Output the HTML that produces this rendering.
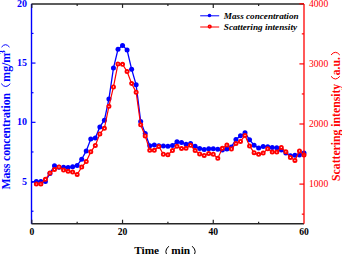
<!DOCTYPE html>
<html><head><meta charset="utf-8"><style>
html,body{margin:0;padding:0;background:#fff;width:342px;height:254px;overflow:hidden}
svg{display:block}
text{font-family:"Liberation Serif",serif}
.lb{font-weight:bold;font-size:10px}
.rl{font-size:9.6px}
.ti{font-weight:bold;font-size:11.3px}
.lg{font-weight:bold;font-style:italic;font-size:9.2px}
</style></head><body>
<svg width="342" height="254" viewBox="0 0 342 254">
<rect width="342" height="254" fill="#fff"/>
<polyline points="31.80,182.4 36.34,181.4 40.87,181.5 45.41,181.4 49.95,173.4 54.48,165.7 59.02,167.2 63.56,167.3 68.09,167.4 72.63,166.8 77.17,165.4 81.70,159.2 86.24,150.9 90.78,139.0 95.31,138.1 99.85,126.9 104.39,120.2 108.92,98.9 113.46,68.1 118.00,49.3 122.53,45.4 127.07,50.1 131.61,69.2 136.14,84.8 140.68,121.4 145.22,133.4 149.75,145.7 154.29,145.1 158.83,145.7 163.36,146.1 167.90,146.2 172.44,145.4 176.97,141.8 181.51,142.6 186.05,144.3 190.58,143.6 195.12,146.3 199.66,148.5 204.19,149.4 208.73,148.7 213.27,148.7 217.80,149.3 222.34,149.9 226.88,149.0 231.41,146.9 235.95,139.4 240.49,135.7 245.02,132.7 249.56,139.8 254.10,145.2 258.63,148.1 263.17,146.4 267.71,146.7 272.24,147.4 276.78,147.8 281.32,150.1 285.85,152.9 290.39,155.70000000000002 294.93,155.20000000000002 299.46,154.9 304.00,153.1" fill="none" stroke="#0000ff" stroke-width="1.3"/>
<g fill="#0000ff"><circle cx="36.34" cy="181.4" r="2.5"/><circle cx="40.87" cy="181.5" r="2.5"/><circle cx="45.41" cy="181.4" r="2.5"/><circle cx="49.95" cy="173.4" r="2.5"/><circle cx="54.48" cy="165.7" r="2.5"/><circle cx="59.02" cy="167.2" r="2.5"/><circle cx="63.56" cy="167.3" r="2.5"/><circle cx="68.09" cy="167.4" r="2.5"/><circle cx="72.63" cy="166.8" r="2.5"/><circle cx="77.17" cy="165.4" r="2.5"/><circle cx="81.70" cy="159.2" r="2.5"/><circle cx="86.24" cy="150.9" r="2.5"/><circle cx="90.78" cy="139.0" r="2.5"/><circle cx="95.31" cy="138.1" r="2.5"/><circle cx="99.85" cy="126.9" r="2.5"/><circle cx="104.39" cy="120.2" r="2.5"/><circle cx="108.92" cy="98.9" r="2.5"/><circle cx="113.46" cy="68.1" r="2.5"/><circle cx="118.00" cy="49.3" r="2.5"/><circle cx="122.53" cy="45.4" r="2.5"/><circle cx="127.07" cy="50.1" r="2.5"/><circle cx="131.61" cy="69.2" r="2.5"/><circle cx="136.14" cy="84.8" r="2.5"/><circle cx="140.68" cy="121.4" r="2.5"/><circle cx="145.22" cy="133.4" r="2.5"/><circle cx="149.75" cy="145.7" r="2.5"/><circle cx="154.29" cy="145.1" r="2.5"/><circle cx="158.83" cy="145.7" r="2.5"/><circle cx="163.36" cy="146.1" r="2.5"/><circle cx="167.90" cy="146.2" r="2.5"/><circle cx="172.44" cy="145.4" r="2.5"/><circle cx="176.97" cy="141.8" r="2.5"/><circle cx="181.51" cy="142.6" r="2.5"/><circle cx="186.05" cy="144.3" r="2.5"/><circle cx="190.58" cy="143.6" r="2.5"/><circle cx="195.12" cy="146.3" r="2.5"/><circle cx="199.66" cy="148.5" r="2.5"/><circle cx="204.19" cy="149.4" r="2.5"/><circle cx="208.73" cy="148.7" r="2.5"/><circle cx="213.27" cy="148.7" r="2.5"/><circle cx="217.80" cy="149.3" r="2.5"/><circle cx="222.34" cy="149.9" r="2.5"/><circle cx="226.88" cy="149.0" r="2.5"/><circle cx="231.41" cy="146.9" r="2.5"/><circle cx="235.95" cy="139.4" r="2.5"/><circle cx="240.49" cy="135.7" r="2.5"/><circle cx="245.02" cy="132.7" r="2.5"/><circle cx="249.56" cy="139.8" r="2.5"/><circle cx="254.10" cy="145.2" r="2.5"/><circle cx="258.63" cy="148.1" r="2.5"/><circle cx="263.17" cy="146.4" r="2.5"/><circle cx="267.71" cy="146.7" r="2.5"/><circle cx="272.24" cy="147.4" r="2.5"/><circle cx="276.78" cy="147.8" r="2.5"/><circle cx="281.32" cy="150.1" r="2.5"/><circle cx="285.85" cy="152.9" r="2.5"/><circle cx="290.39" cy="155.70000000000002" r="2.5"/><circle cx="294.93" cy="155.20000000000002" r="2.5"/><circle cx="299.46" cy="154.9" r="2.5"/><circle cx="304.00" cy="153.1" r="2.5"/></g>
<polyline points="36.34,184 40.87,184 45.41,179.3 49.95,173 54.48,169.5 59.02,166.9 63.56,170.1 68.09,171.3 72.63,172 77.17,174.5 81.70,167.1 86.24,161.6 90.78,151.8 95.31,145.4 99.85,133.9 104.39,128.3 108.92,106.3 113.46,86.9 118.00,63.9 122.53,64.3 127.07,71.6 131.61,83.5 136.14,92.2 140.68,124.8 145.22,135.9 149.75,150.3 154.29,150.3 158.83,146.5 163.36,154.2 167.90,154.8 172.44,150.6 176.97,146.2 181.51,148.5 186.05,148.3 190.58,145.3 195.12,150.6 199.66,153.9 204.19,155.4 208.73,153.6 213.27,154.2 217.80,158.3 222.34,148.3 226.88,145.1 231.41,148.9 235.95,143.6 240.49,141.4 245.02,135.4 249.56,146 254.10,152.7 258.63,154.3 263.17,153.1 267.71,148.8 272.24,152 276.78,152.1 281.32,147.4 285.85,151.8 290.39,157.4 294.93,160.4 299.46,150.9 304.00,155" fill="none" stroke="#ff0000" stroke-width="1.2"/>
<g fill="#fff" stroke="#ff0000" stroke-width="1.9"><circle cx="36.34" cy="184" r="1.55"/><circle cx="40.87" cy="184" r="1.55"/><circle cx="45.41" cy="179.3" r="1.55"/><circle cx="49.95" cy="173" r="1.55"/><circle cx="54.48" cy="169.5" r="1.55"/><circle cx="59.02" cy="166.9" r="1.55"/><circle cx="63.56" cy="170.1" r="1.55"/><circle cx="68.09" cy="171.3" r="1.55"/><circle cx="72.63" cy="172" r="1.55"/><circle cx="77.17" cy="174.5" r="1.55"/><circle cx="81.70" cy="167.1" r="1.55"/><circle cx="86.24" cy="161.6" r="1.55"/><circle cx="90.78" cy="151.8" r="1.55"/><circle cx="95.31" cy="145.4" r="1.55"/><circle cx="99.85" cy="133.9" r="1.55"/><circle cx="104.39" cy="128.3" r="1.55"/><circle cx="108.92" cy="106.3" r="1.55"/><circle cx="113.46" cy="86.9" r="1.55"/><circle cx="118.00" cy="63.9" r="1.55"/><circle cx="122.53" cy="64.3" r="1.55"/><circle cx="127.07" cy="71.6" r="1.55"/><circle cx="131.61" cy="83.5" r="1.55"/><circle cx="136.14" cy="92.2" r="1.55"/><circle cx="140.68" cy="124.8" r="1.55"/><circle cx="145.22" cy="135.9" r="1.55"/><circle cx="149.75" cy="150.3" r="1.55"/><circle cx="154.29" cy="150.3" r="1.55"/><circle cx="158.83" cy="146.5" r="1.55"/><circle cx="163.36" cy="154.2" r="1.55"/><circle cx="167.90" cy="154.8" r="1.55"/><circle cx="172.44" cy="150.6" r="1.55"/><circle cx="176.97" cy="146.2" r="1.55"/><circle cx="181.51" cy="148.5" r="1.55"/><circle cx="186.05" cy="148.3" r="1.55"/><circle cx="190.58" cy="145.3" r="1.55"/><circle cx="195.12" cy="150.6" r="1.55"/><circle cx="199.66" cy="153.9" r="1.55"/><circle cx="204.19" cy="155.4" r="1.55"/><circle cx="208.73" cy="153.6" r="1.55"/><circle cx="213.27" cy="154.2" r="1.55"/><circle cx="217.80" cy="158.3" r="1.55"/><circle cx="222.34" cy="148.3" r="1.55"/><circle cx="226.88" cy="145.1" r="1.55"/><circle cx="231.41" cy="148.9" r="1.55"/><circle cx="235.95" cy="143.6" r="1.55"/><circle cx="240.49" cy="141.4" r="1.55"/><circle cx="245.02" cy="135.4" r="1.55"/><circle cx="249.56" cy="146" r="1.55"/><circle cx="254.10" cy="152.7" r="1.55"/><circle cx="258.63" cy="154.3" r="1.55"/><circle cx="263.17" cy="153.1" r="1.55"/><circle cx="267.71" cy="148.8" r="1.55"/><circle cx="272.24" cy="152" r="1.55"/><circle cx="276.78" cy="152.1" r="1.55"/><circle cx="281.32" cy="147.4" r="1.55"/><circle cx="285.85" cy="151.8" r="1.55"/><circle cx="290.39" cy="157.4" r="1.55"/><circle cx="294.93" cy="160.4" r="1.55"/><circle cx="299.46" cy="150.9" r="1.55"/><circle cx="304.00" cy="155" r="1.55"/></g>
<line x1="31.5" y1="3.9" x2="304.0" y2="3.9" stroke="#262626" stroke-width="1.5"/>
<line x1="31.5" y1="223.7" x2="304.0" y2="223.7" stroke="#262626" stroke-width="1.5"/>
<line x1="31.5" y1="3.9" x2="31.5" y2="223.7" stroke="#0000ff" stroke-width="1.4"/>
<line x1="304.0" y1="3.9" x2="304.0" y2="223.7" stroke="#ff0000" stroke-width="1.3"/>
<line x1="31.80" y1="223.7" x2="31.80" y2="219.7" stroke="#222" stroke-width="1.2"/><line x1="31.80" y1="3.9" x2="31.80" y2="7.9" stroke="#222" stroke-width="1.2"/><line x1="77.17" y1="223.7" x2="77.17" y2="221.7" stroke="#222" stroke-width="1.2"/><line x1="77.17" y1="3.9" x2="77.17" y2="5.9" stroke="#222" stroke-width="1.2"/><line x1="122.53" y1="223.7" x2="122.53" y2="219.7" stroke="#222" stroke-width="1.2"/><line x1="122.53" y1="3.9" x2="122.53" y2="7.9" stroke="#222" stroke-width="1.2"/><line x1="167.90" y1="223.7" x2="167.90" y2="221.7" stroke="#222" stroke-width="1.2"/><line x1="167.90" y1="3.9" x2="167.90" y2="5.9" stroke="#222" stroke-width="1.2"/><line x1="213.27" y1="223.7" x2="213.27" y2="219.7" stroke="#222" stroke-width="1.2"/><line x1="213.27" y1="3.9" x2="213.27" y2="7.9" stroke="#222" stroke-width="1.2"/><line x1="258.63" y1="223.7" x2="258.63" y2="221.7" stroke="#222" stroke-width="1.2"/><line x1="258.63" y1="3.9" x2="258.63" y2="5.9" stroke="#222" stroke-width="1.2"/><line x1="31.5" y1="211.23" x2="33.5" y2="211.23" stroke="#0000ff" stroke-width="1.2"/><line x1="31.5" y1="181.60" x2="35.5" y2="181.60" stroke="#0000ff" stroke-width="1.2"/><line x1="31.5" y1="151.97" x2="33.5" y2="151.97" stroke="#0000ff" stroke-width="1.2"/><line x1="31.5" y1="122.33" x2="35.5" y2="122.33" stroke="#0000ff" stroke-width="1.2"/><line x1="31.5" y1="92.70" x2="33.5" y2="92.70" stroke="#0000ff" stroke-width="1.2"/><line x1="31.5" y1="63.07" x2="35.5" y2="63.07" stroke="#0000ff" stroke-width="1.2"/><line x1="31.5" y1="33.43" x2="33.5" y2="33.43" stroke="#0000ff" stroke-width="1.2"/><line x1="304.0" y1="214.15" x2="301.8" y2="214.15" stroke="#ff0000" stroke-width="1.2"/><line x1="304.0" y1="184.10" x2="299.4" y2="184.10" stroke="#ff0000" stroke-width="1.2"/><line x1="304.0" y1="154.05" x2="301.8" y2="154.05" stroke="#ff0000" stroke-width="1.2"/><line x1="304.0" y1="124.00" x2="299.4" y2="124.00" stroke="#ff0000" stroke-width="1.2"/><line x1="304.0" y1="93.95" x2="301.8" y2="93.95" stroke="#ff0000" stroke-width="1.2"/><line x1="304.0" y1="63.90" x2="299.4" y2="63.90" stroke="#ff0000" stroke-width="1.2"/><line x1="304.0" y1="33.85" x2="301.8" y2="33.85" stroke="#ff0000" stroke-width="1.2"/><line x1="304.0" y1="3.80" x2="299.4" y2="3.80" stroke="#ff0000" stroke-width="1.2"/>
<text x="27" y="184.60" text-anchor="end" class="lb" fill="#0000ff">5</text><text x="27" y="125.33" text-anchor="end" class="lb" fill="#0000ff">10</text><text x="27" y="66.07" text-anchor="end" class="lb" fill="#0000ff">15</text><text x="27" y="6.80" text-anchor="end" class="lb" fill="#0000ff">20</text><text x="309" y="187.30" class="rl" fill="#ff0000">1000</text><text x="309" y="127.20" class="rl" fill="#ff0000">2000</text><text x="309" y="67.10" class="rl" fill="#ff0000">3000</text><text x="309" y="7.00" class="rl" fill="#ff0000">4000</text><text x="31.80" y="235.4" text-anchor="middle" class="lb" style="font-size:9.6px" fill="#000">0</text><text x="122.53" y="235.4" text-anchor="middle" class="lb" style="font-size:9.6px" fill="#000">20</text><text x="213.27" y="235.4" text-anchor="middle" class="lb" style="font-size:9.6px" fill="#000">40</text><text x="304.00" y="235.4" text-anchor="middle" class="lb" style="font-size:9.6px" fill="#000">60</text>
<line x1="200.2" y1="15.8" x2="219.2" y2="15.8" stroke="#0000ff" stroke-width="1"/>
<circle cx="209.5" cy="15.5" r="1.8" fill="#0000ff"/>
<line x1="200.2" y1="27" x2="219.2" y2="27" stroke="#ff0000" stroke-width="1"/>
<circle cx="209.7" cy="26.6" r="1.2" fill="#fff" stroke="#ff0000" stroke-width="1.8"/>
<text x="223.8" y="19" class="lg" fill="#000">Mass concentration</text>
<text x="223.8" y="30.3" class="lg" fill="#000">Scattering intensity</text>
<text transform="rotate(-90)" x="-189.5" y="9.9" class="ti" fill="#0000ff" style="font-size:11.8px" textLength="96.5" lengthAdjust="spacing">Mass concentration</text>
<text transform="rotate(-90)" x="-81.7" y="9.9" class="ti" fill="#0000ff" style="font-size:11.8px">mg/m</text>
<text transform="rotate(-90)" x="-54.2" y="4.8" font-size="8" font-weight="bold" fill="#0000ff">3</text>
<path d="M1.2,83.6 Q5.75,89.4 10.3,83.6" fill="none" stroke="#0000ff" stroke-width="1"/>
<path d="M1.5,47.1 Q5.5,42.3 9.5,47.1" fill="none" stroke="#0000ff" stroke-width="1"/>
<text transform="rotate(-90)" x="-180.9" y="340" class="ti" fill="#ff0000" style="font-size:11.7px">Scattering intensity</text>
<text transform="rotate(-90)" x="-75.3" y="340" class="ti" fill="#ff0000" style="font-size:11.7px">a.u.</text>
<path d="M331,76.3 Q335.4,81.7 339.8,76.3" fill="none" stroke="#ff0000" stroke-width="1"/>
<path d="M331,55 Q335.4,49.6 339.8,55" fill="none" stroke="#ff0000" stroke-width="1"/>
<text x="134.2" y="253.9" class="ti" fill="#000">Time</text>
<text x="171.3" y="253.9" class="ti" fill="#000">min</text>
<path d="M168.8,246.2 Q162.8,251.7 168.8,257.2" fill="none" stroke="#000" stroke-width="1"/>
<path d="M192.2,246.2 Q198.2,251.7 192.2,257.2" fill="none" stroke="#000" stroke-width="1"/>
</svg>
</body></html>
